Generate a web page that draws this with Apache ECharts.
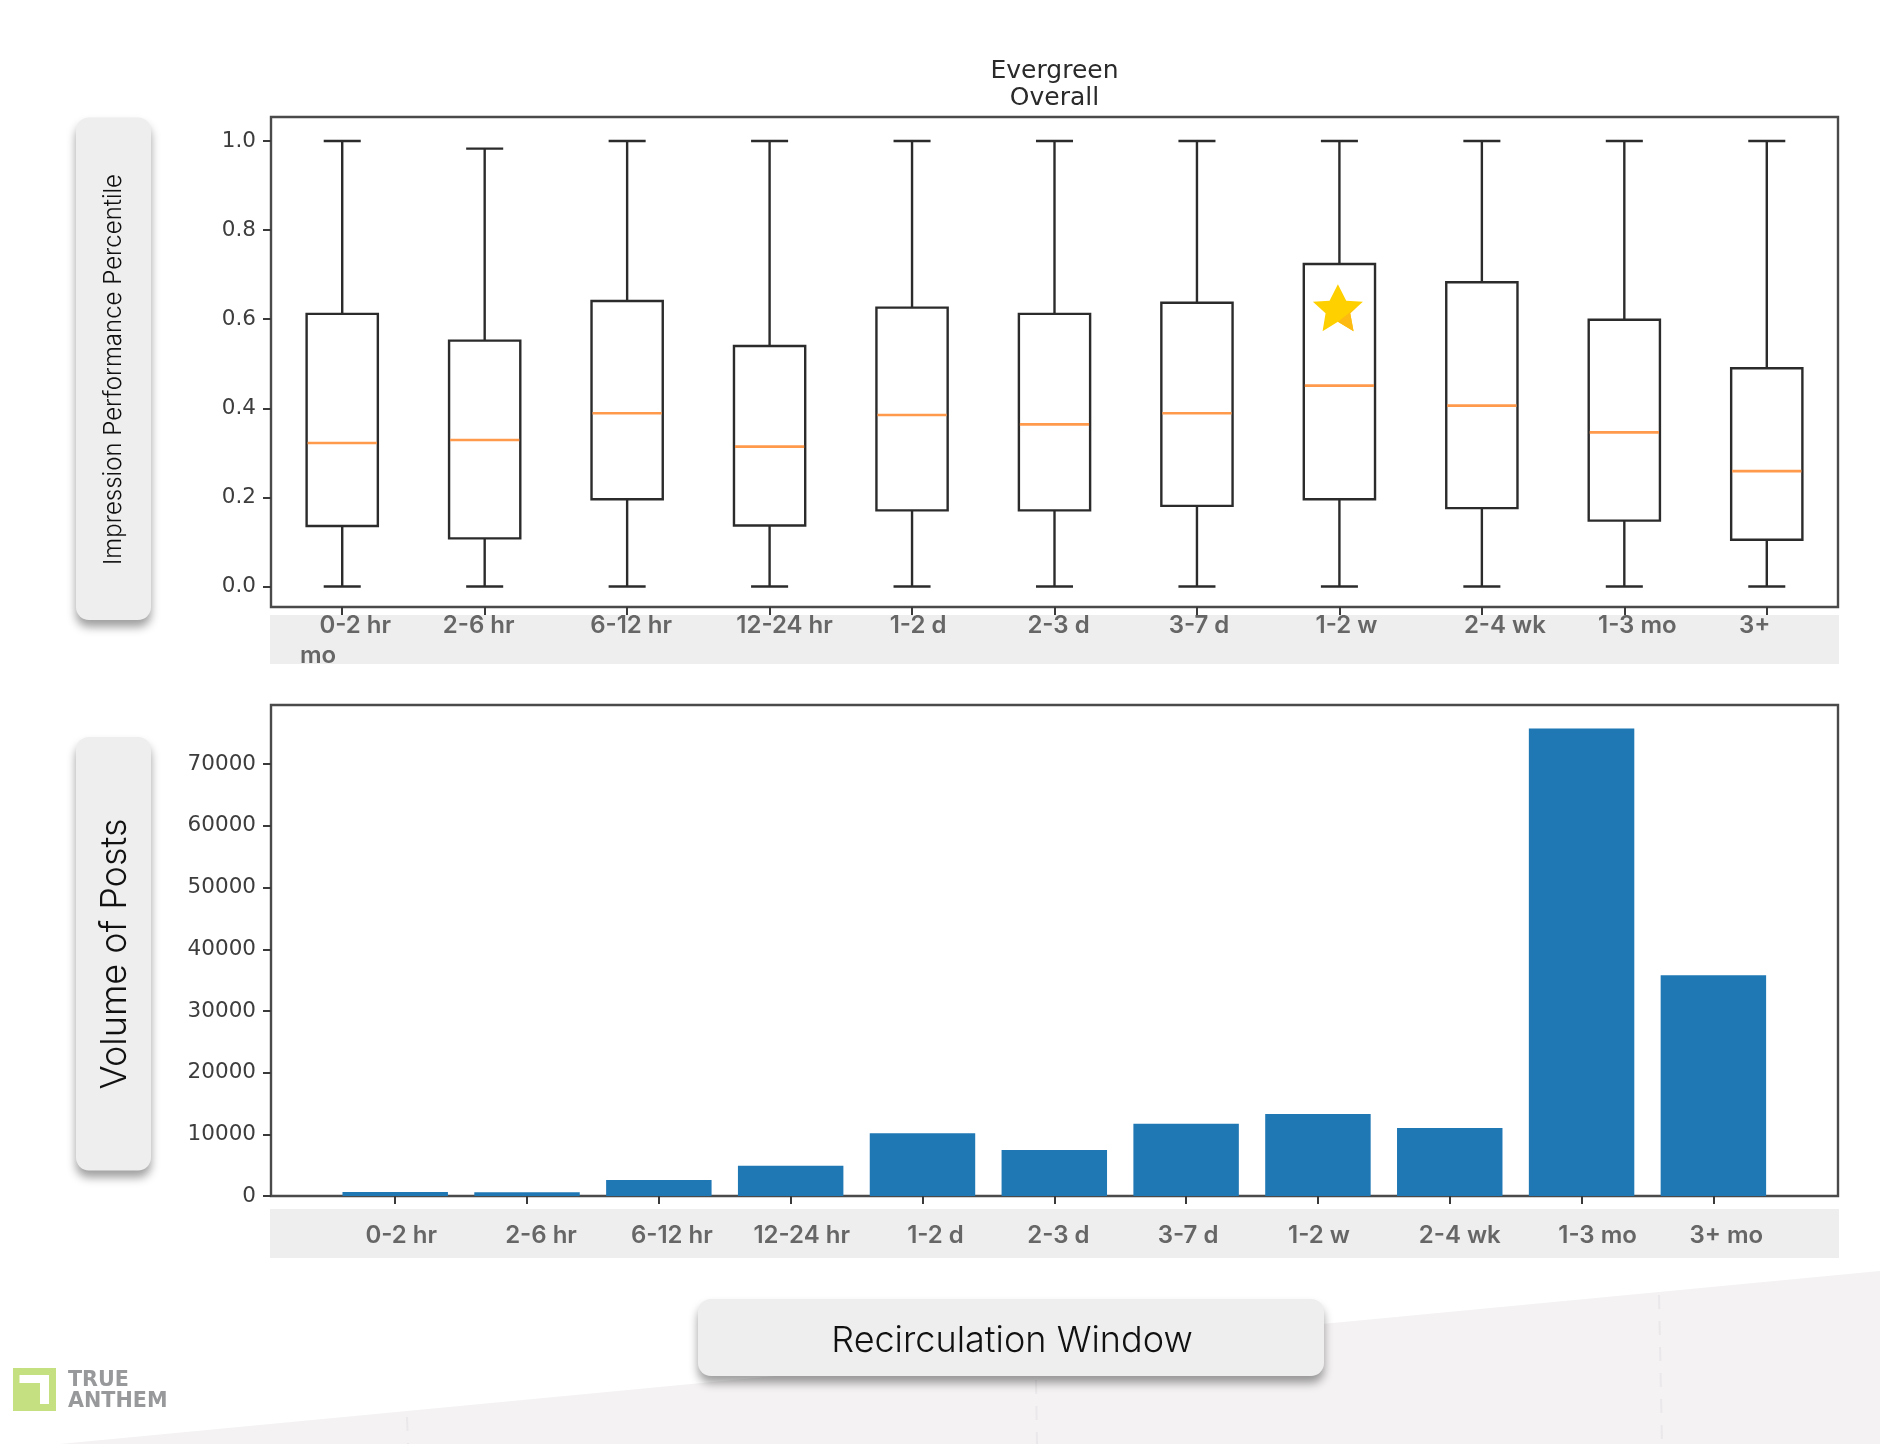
<!DOCTYPE html>
<html>
<head>
	<meta charset="UTF-8">
	<title>Evergreen Overall</title>
	<style>
		html, body { margin: 0; padding: 0; background: #fff; }
		#main { width: 1880px; height: 1444px; }
	</style>
</head>
<body>
	<div id="main"></div>
	<script src="https://cdn.jsdelivr.net/npm/echarts@6/dist/echarts.min.js"></script>
	<script>
	// values
	var boxCategories = ['0-2 hr', '2-6 hr', '6-12 hr', '12-24 hr', '1-2 d', '2-3 d', '3-7 d', '1-2 w', '2-4 wk', '1-3 mo', '3+'];
	var barCategories = ['0-2 hr', '2-6 hr', '6-12 hr', '12-24 hr', '1-2 d', '2-3 d', '3-7 d', '1-2 w', '2-4 wk', '1-3 mo', '3+ mo'];
	var whiskerLow = [0, 0, 0, 0, 0, 0, 0, 0, 0, 0, 0];
	var q1 = [0.136, 0.108, 0.196, 0.137, 0.171, 0.171, 0.181, 0.196, 0.176, 0.148, 0.105];
	var median = [0.322, 0.329, 0.389, 0.314, 0.385, 0.364, 0.389, 0.451, 0.406, 0.346, 0.259];
	var q3 = [0.612, 0.552, 0.641, 0.540, 0.626, 0.612, 0.637, 0.724, 0.683, 0.599, 0.490];
	var whiskerHigh = [1, 0.983, 1, 1, 1, 1, 1, 1, 1, 1, 1];
	var postVolume = [650, 600, 2600, 4920, 10160, 7460, 11730, 13300, 11030, 75800, 35800];
	var percentileTicks = [0, 0.2, 0.4, 0.6, 0.8, 1];
	var volumeTicks = [0, 10000, 20000, 30000, 40000, 50000, 60000, 70000];
	var starPoint = [7, 0.626];

	// the pasted tick labels sit off their ticks in the original
	var boxLabelShift = [13, -6, 4, 15, 6, 4, 2, 7, 23, 13, -12];
	var barLabelShift = [6, 14, 13, 11, 13, 4, 2, 1, 10, 16, 13];

	var INK = '#3a3a3a';
	var LABEL_FONT = 'DejaVu Sans';
	var PILL = '#eeeeee';

	function shiftedLabels(names, shifts) {
		return names.map(function (name, i) {
			var s = shifts[i];
			return { value: name, textStyle: { padding: s > 0 ? [0, 0, 0, s * 2] : [0, -s * 2, 0, 0] } };
		});
	}

	function pill(x, y, w, h) {
		return {
			type: 'rect', z: -1,
			shape: { x: x, y: y, width: w, height: h, r: 13 },
			style: { fill: PILL, shadowBlur: 10, shadowOffsetY: 7, shadowColor: 'rgba(0,0,0,0.38)' }
		};
	}

	function caption(text, x, y, size, rotation) {
		return {
			type: 'text', z: 1, x: x, y: y, rotation: rotation || 0,
			style: { text: text, font: '300 ' + size + 'px Inter', fill: '#111', align: 'center', verticalAlign: 'middle' }
		};
	}

	function band(y, h) {
		return { type: 'rect', z: -1, shape: { x: 270, y: y, width: 1569, height: h }, style: { fill: '#eeeeee' } };
	}

	function dash(x1, y1, x2, y2) {
		return {
			type: 'line', z: -2,
			shape: { x1: x1, y1: y1, x2: x2, y2: y2 },
			style: { stroke: '#eae8ea', lineWidth: 2, lineDash: [14, 12] }
		};
	}

	function renderBox(params, api) {
		var i = api.value(0);
		var bw = api.size([1, 0])[0] * 0.5;
		var cw = bw * 0.52;
		var x = api.coord([i, 0])[0];
		var yLow = api.coord([i, api.value(1)])[1];
		var yQ1 = api.coord([i, api.value(2)])[1];
		var yMed = api.coord([i, api.value(3)])[1];
		var yQ3 = api.coord([i, api.value(4)])[1];
		var yHigh = api.coord([i, api.value(5)])[1];
		var line = { stroke: '#2b2b2b', lineWidth: 2.4 };
		function seg(x1, y1, x2, y2, style) {
			return { type: 'line', shape: { x1: x1, y1: y1, x2: x2, y2: y2 }, style: style || line };
		}
		return {
			type: 'group',
			children: [
				seg(x, yHigh, x, yQ3),
				seg(x, yQ1, x, yLow),
				seg(x - cw / 2, yHigh, x + cw / 2, yHigh),
				seg(x - cw / 2, yLow, x + cw / 2, yLow),
				{ type: 'rect', shape: { x: x - bw / 2, y: yQ3, width: bw, height: yQ1 - yQ3 }, style: { fill: '#fff', stroke: '#2b2b2b', lineWidth: 2.4 } },
				seg(x - bw / 2 + 1, yMed, x + bw / 2 - 1, yMed, { stroke: '#ff9a4d', lineWidth: 2.6 })
			]
		};
	}

	function renderStar(params, api) {
		var p = api.coord([api.value(0), api.value(1)]);
		var ox = p[0] - 1 - 76.5 / 3, oy = p[1] - 70.5 / 3;
		function pts(list) {
			return list.map(function (a) { return [ox + a[0] / 3, oy + a[1] / 3]; });
		}
		return {
			type: 'group',
			children: [
				{ type: 'polygon', shape: { points: pts([[75, 0], [100, 50], [150, 53], [112, 87], [122, 141], [75, 113], [29, 141], [38, 87], [0, 53], [50, 50]]) }, style: { fill: '#ffd000' } },
				{ type: 'polygon', shape: { points: pts([[132, 68], [112, 87], [122, 141], [75, 113]]) }, style: { fill: '#fdba12' } }
			]
		};
	}

	var myChart = echarts.init(document.getElementById('main'));

	myChart.setOption({
		animation: false,
		backgroundColor: '#fff',
		title: {
			text: 'Evergreen\nOverall',
			left: 1049.5, top: 52.5, textAlign: 'center',
			textStyle: { fontFamily: LABEL_FONT, fontSize: 25, fontWeight: 'normal', color: '#2a2a2a', lineHeight: 27 }
		},
		grid: [
			{ left: 271, top: 117, width: 1567, height: 490, show: true, borderColor: '#4a4a4a', borderWidth: 2.4, backgroundColor: 'transparent' },
			{ left: 329.3, top: 705, width: 1450, height: 491 },
			{ left: 271, top: 705, width: 1567, height: 491, show: true, borderColor: '#4a4a4a', borderWidth: 2.4, backgroundColor: 'transparent' }
		],
		xAxis: [
			{
				type: 'category', gridIndex: 0,
				data: shiftedLabels(boxCategories, boxLabelShift),
				axisLine: { show: false, onZero: false },
				axisTick: { show: true, interval: 0, alignWithLabel: true, length: 8, lineStyle: { color: INK, width: 2 } },
				axisLabel: { interval: 0, margin: 7, verticalAlign: 'middle', fontFamily: 'Inter', fontWeight: 600, fontSize: 24, color: '#666' }
			},
			{
				type: 'category', gridIndex: 1,
				data: shiftedLabels(barCategories, barLabelShift),
				axisLine: { show: false, onZero: false },
				axisTick: { show: true, interval: 0, alignWithLabel: true, length: 8, lineStyle: { color: INK, width: 2 } },
				axisLabel: { interval: 0, margin: 27.5, verticalAlign: 'middle', fontFamily: 'Inter', fontWeight: 600, fontSize: 24, color: '#666' }
			}
		],
		yAxis: [
			{
				type: 'value', gridIndex: 0, min: -0.046, max: 1.054,
				splitLine: { show: false },
				axisLine: { show: false },
				axisTick: { show: true, length: 8, customValues: percentileTicks, lineStyle: { color: INK, width: 2 } },
				axisLabel: {
					margin: 15, padding: [2, 0, 0, 0], customValues: percentileTicks, fontFamily: LABEL_FONT, fontSize: 21.5, color: '#3d3d3d',
					formatter: function (v) { return v.toFixed(1); }
				}
			},
			{
				type: 'value', gridIndex: 1, min: 0, max: 79600, offset: 58.3,
				splitLine: { show: false },
				axisLine: { show: false },
				axisTick: { show: true, length: 8, customValues: volumeTicks, lineStyle: { color: INK, width: 2 } },
				axisLabel: { margin: 15, padding: [3, 0, 0, 0], customValues: volumeTicks, fontFamily: LABEL_FONT, fontSize: 21.5, color: '#3d3d3d', formatter: function (v) { return String(v); } }
			}
		],
		series: [
			{
				type: 'custom', xAxisIndex: 0, yAxisIndex: 0,
				renderItem: renderBox,
				encode: { x: 0, y: [1, 2, 3, 4, 5] },
				data: boxCategories.map(function (c, i) { return [i, whiskerLow[i], q1[i], median[i], q3[i], whiskerHigh[i]]; })
			},
			{
				type: 'custom', xAxisIndex: 0, yAxisIndex: 0, z: 5,
				renderItem: renderStar,
				encode: { x: 0, y: 1 },
				data: [starPoint]
			},
			{
				type: 'bar', xAxisIndex: 1, yAxisIndex: 1,
				barWidth: '80%',
				itemStyle: { color: '#1f77b4' },
				data: postVolume
			}
		],
		graphic: [
			{ type: 'polygon', z: -3, shape: { points: [[60, 1444], [1880, 1271], [1880, 1444]] }, style: { fill: '#f4f2f3' } },
			dash(407, 1417, 408, 1444),
			dash(1036, 1380, 1037, 1444),
			dash(1659, 1295, 1662, 1444),
			band(615, 49),
			band(1209, 49),
			pill(76, 117.5, 75, 502.5),
			pill(76, 737, 75, 433.5),
			pill(698, 1299, 626, 77),
			caption('Impression Performance Percentile', 113.5, 369.5, 24, Math.PI / 2),
			caption('Volume of Posts', 115.5, 954, 36, Math.PI / 2),
			caption('Recirculation Window', 1012, 1341, 36),
			{ type: 'text', z: 1, x: 318, y: 655.5, style: { text: 'mo', font: '600 24px Inter', fill: '#666', align: 'center', verticalAlign: 'middle' } },
			{ type: 'rect', z: 1, shape: { x: 13, y: 1368, width: 43, height: 43 }, style: { fill: '#c5e080' } },
			{ type: 'rect', z: 2, shape: { x: 19.5, y: 1375, width: 29.5, height: 8 }, style: { fill: '#fff' } },
			{ type: 'rect', z: 2, shape: { x: 40, y: 1375, width: 9, height: 29 }, style: { fill: '#fff' } },
			{ type: 'text', z: 1, x: 68, y: 1381, style: { text: 'TRUE', font: 'bold 20.7px "DejaVu Sans"', fill: '#98999b', align: 'left', verticalAlign: 'middle' } },
			{ type: 'text', z: 1, x: 68, y: 1402, style: { text: 'ANTHEM', font: 'bold 20.7px "DejaVu Sans"', fill: '#98999b', align: 'left', verticalAlign: 'middle' } }
		]
	});
	</script>
</body>
</html>
